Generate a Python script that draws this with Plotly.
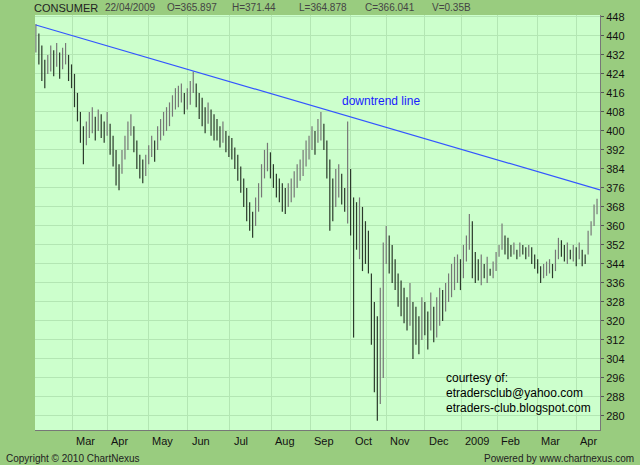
import plotly.graph_objects as go

# ---- data ----------------------------------------------------------------
highs = [445, 441, 436, 430,
         432, 436, 434, 437, 433, 435, 437, 432,
         428, 424, 416, 408, 402,
         404, 408, 410, 406, 409, 407, 404, 408, 403,
         398, 392, 386,
         392, 398, 404, 407, 402, 396, 390,
         388,
         390, 394, 398, 396, 402, 405, 408, 410, 412, 415, 418,
         419, 420, 416, 418, 421, 425,
         420, 416, 414, 410, 412, 409, 407,
         405, 402, 404, 400, 398,
         397, 393, 390, 385, 380, 376, 370, 366,
         372, 378, 386, 392, 395,
         391, 386, 382, 380, 378, 376, 378,
         380, 383, 386, 388, 392, 396, 398, 402, 400, 405, 408,
         403, 396, 388,
         380, 384, 386, 382, 376,
         404,
         384, 372,
         370, 372, 368, 362, 358,
         340, 328, 322,
         334, 353,
         360, 356, 352, 346,
         340, 337, 334, 330, 336, 328,
         326, 322, 330, 328, 324, 332, 326, 330, 334,
         333, 336, 340, 344, 347,
         348, 346, 352, 356, 365,
         362, 349, 346, 348, 344, 347, 342, 345, 349, 352,
         361, 356, 355, 352, 353, 350, 353, 352, 351, 352,
         351, 348, 346, 343, 344,
         345, 346, 344, 350, 355, 354, 352, 353, 350, 352, 351, 353, 350, 348,
         358, 362, 369, 371.44]
lows = [433, 428, 421, 418,
        424, 425, 423, 427, 422, 426, 428, 421,
        418, 410, 404, 395, 386,
        394, 397, 399, 396, 400, 397, 395, 398, 390,
        385, 377, 375,
        382, 388, 392, 398, 391, 384, 380,
        378,
        381, 386, 389, 387, 392, 396, 398, 400, 402, 406, 409,
        410, 412, 407, 409, 411, 416,
        410, 405, 402, 399, 403, 398, 396,
        396, 393, 395, 391, 389,
        388, 384, 379, 374, 368, 362, 358, 355,
        360, 366, 372, 380, 383,
        380, 376, 372, 370, 366, 365, 368,
        370, 372, 376, 379, 381, 385, 388, 392, 390, 395, 396,
        392, 380, 358,
        362, 368, 372, 369, 366,
        361,
        356, 313,
        350, 346, 341, 344, 340,
        310, 290, 278,
        285, 296,
        344, 340, 336, 333,
        326, 322, 319, 316, 318, 304,
        310, 306, 312, 314, 308, 316, 311, 313, 318,
        320, 324, 328, 330, 333,
        336, 333, 338, 345, 350,
        338, 336, 337, 335, 338, 336, 339, 338, 341, 347,
        350, 348, 346, 347, 348, 346, 347, 348, 346, 347,
        344, 342, 340, 336, 338,
        339, 340, 338, 341, 346, 347, 345, 344, 346, 345, 343, 346, 343, 344,
        348, 356, 360, 364.878]

# month boundaries (bar index) and their labels
month_starts = [12.4, 24.1, 38, 51.2, 65.3, 79.4, 92.5, 106.1, 118.1, 131,
                143.3, 155.5, 169, 182]
month_labels = ["Mar", "Apr", "May", "Jun", "Jul", "Aug", "Sep", "Oct", "Nov",
                "Dec", "2009", "Feb", "Mar", "Apr"]

trend_x = [0, 190]
trend_y = [444.6, 375.2]

BG = "#99cc7f"
PLOT = "#ccffcc"
GRID = "#b3e6b3"

# plot area in pixels: left 35, right 600, top 15, bottom 430
PW, PH = 565, 415


def px(x):
    return (x - 35) / PW


def py(y):
    return (430 - y) / PH


# split bars into up (grey) and down (dark) as vertical segments
segs = {"up": ([], []), "down": ([], [])}
for i, (h, l) in enumerate(zip(highs, lows)):
    key = "up" if i == 0 or h >= highs[i - 1] else "down"
    xs, ys = segs[key]
    xs += [i, i, None]
    ys += [l, h, None]

fig = go.Figure()
fig.add_trace(go.Scatter(x=segs["up"][0], y=segs["up"][1], mode="lines",
                         line=dict(color="#777777", width=1.2), hoverinfo="skip"))
fig.add_trace(go.Scatter(x=segs["down"][0], y=segs["down"][1], mode="lines",
                         line=dict(color="#2b3a2b", width=1.2), hoverinfo="skip"))
fig.add_trace(go.Scatter(x=trend_x, y=trend_y, mode="lines",
                         line=dict(color="#3355ff", width=1.2), hoverinfo="skip"))

for xm, lab in zip(month_starts, month_labels):
    fig.add_annotation(x=xm + 0.6, y=py(441), xref="x", yref="paper",
                       yanchor="middle", xanchor="left", text=lab, showarrow=False,
                       font=dict(size=11, color="#111"))

fig.add_annotation(x=px(340), y=py(101), xref="paper", yref="paper",
                   text="downtrend line", showarrow=False, xanchor="left",
                   yanchor="middle", font=dict(size=12, color="#1a1aff"))
for j, t in enumerate(["courtesy of:", "etradersclub@yahoo.com",
                       "etraders-club.blogspot.com"]):
    fig.add_annotation(x=px(444), y=py(378 + j * 15), xref="paper", yref="paper",
                       text=t, showarrow=False, xanchor="left", yanchor="middle",
                       font=dict(size=12, color="#000"))

head = [(32, "CONSUMER", 11), (103, "22/04/2009", 10), (165, "O=365.897", 10),
        (230, "H=371.44", 10), (297, "L=364.878", 10), (363, "C=366.041", 10),
        (430, "V=0.35B", 10)]
for hx, t, s in head:
    fig.add_annotation(x=px(hx), y=py(8), xref="paper", yref="paper",
                       xanchor="left", yanchor="middle", text=t, showarrow=False,
                       font=dict(size=s, color="#222" if s == 11 else "#444"))

fig.add_annotation(x=px(4), y=py(458), xref="paper", yref="paper",
                   text="Copyright © 2010 ChartNexus", showarrow=False,
                   xanchor="left", yanchor="middle", font=dict(size=10, color="#222"))
fig.add_annotation(x=px(636), y=py(458), xref="paper", yref="paper",
                   text="Powered by www.chartnexus.com", showarrow=False,
                   xanchor="right", yanchor="middle", font=dict(size=10, color="#222"))

fig.update_xaxes(range=[-0.3, 190], tickvals=month_starts, showticklabels=False,
                 showgrid=True, gridcolor=GRID, gridwidth=1, zeroline=False,
                 showline=True, linecolor="#777", ticks="", automargin=False)
fig.update_yaxes(range=[274.1, 448.8], side="right", tickvals=list(range(280, 449, 8)),
                 showgrid=True, gridcolor=GRID, zeroline=False, showline=True,
                 linecolor="#777", ticks="outside", ticklen=3, tickcolor="#555",
                 tickfont=dict(size=11, color="#111"), automargin=False)

fig.update_layout(width=640, height=465, showlegend=False,
                  paper_bgcolor=BG, plot_bgcolor=PLOT,
                  margin=dict(l=35, r=40, t=15, b=35),
                  font=dict(family="Liberation Sans, Arial, sans-serif"))

# drop the browser's default body margin so the figure fills the window
fig.write_html("out.html", config={"displayModeBar": False},
               post_script="document.body.style.margin='0';")
